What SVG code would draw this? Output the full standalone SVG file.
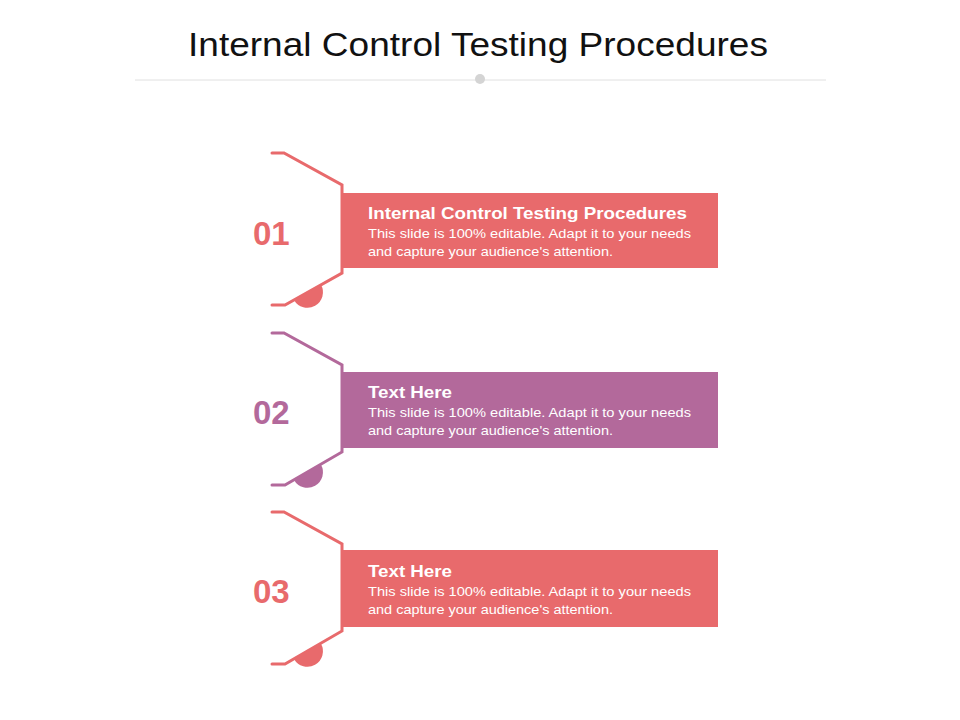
<svg xmlns="http://www.w3.org/2000/svg" width="960" height="720" viewBox="0 0 960 720">
<style>
.title{font-family:"Liberation Sans",Arial,sans-serif;font-size:33px;fill:#111;}
.num{font-family:"Liberation Sans",Arial,sans-serif;font-size:33px;font-weight:bold;}
.head{font-family:"Liberation Sans",Arial,sans-serif;font-size:17px;font-weight:bold;fill:#fff;}
.body{font-family:"Liberation Sans",Arial,sans-serif;font-size:13.5px;fill:#fff;}
.br{fill:none;stroke-width:3;stroke-linecap:round;stroke-linejoin:miter;}
.red{fill:#E86A6C;}
.redS{stroke:#E86A6C;}
.pur{fill:#B3699B;}
.purS{stroke:#B3699B;}
</style>
<rect width="960" height="720" fill="#fff"/>
<g id="title">
<text class="title" x="188" y="56" textLength="580" lengthAdjust="spacingAndGlyphs">Internal Control Testing Procedures</text>
<line x1="135" y1="80" x2="826" y2="80" stroke="#e0e0e0" stroke-width="1"/>
<circle cx="480" cy="79" r="5" fill="#d4d4d4"/>
</g>
<g id="connectors">
<path class="br redS" d="M272,153 H284 L342,185 V273 L285,305 H272"/>
<path class="br purS" d="M272,333 H284 L342,365 V452 L285,485 H272"/>
<path class="br redS" d="M272,512 H284 L342,544 V631 L285,664 H272"/>
</g>
<g id="node1">
<rect class="red" x="343" y="193" width="375" height="75"/>
<path class="red" d="M294,299.9 A14.5,14.5 0 0 0 321,284.8 Z"/>
<text class="num red" x="253" y="245">01</text>
<text class="head" x="368" y="219" textLength="319" lengthAdjust="spacingAndGlyphs">Internal Control Testing Procedures</text>
<text class="body" x="368" y="238" textLength="323" lengthAdjust="spacingAndGlyphs">This slide is 100% editable. Adapt it to your needs</text>
<text class="body" x="368" y="256" textLength="245" lengthAdjust="spacingAndGlyphs">and capture your audience's attention.</text>
</g>
<g id="node2">
<rect class="pur" x="343" y="372" width="375" height="76"/>
<path class="pur" d="M294,479.9 A14.5,14.5 0 0 0 321,464.8 Z"/>
<text class="num pur" x="253" y="424">02</text>
<text class="head" x="368" y="398" textLength="84" lengthAdjust="spacingAndGlyphs">Text Here</text>
<text class="body" x="368" y="417" textLength="323" lengthAdjust="spacingAndGlyphs">This slide is 100% editable. Adapt it to your needs</text>
<text class="body" x="368" y="435" textLength="245" lengthAdjust="spacingAndGlyphs">and capture your audience's attention.</text>
</g>
<g id="node3">
<rect class="red" x="343" y="550" width="375" height="77"/>
<path class="red" d="M294,658.9 A14.5,14.5 0 0 0 321,643.8 Z"/>
<text class="num red" x="253" y="603">03</text>
<text class="head" x="368" y="577" textLength="84" lengthAdjust="spacingAndGlyphs">Text Here</text>
<text class="body" x="368" y="596" textLength="323" lengthAdjust="spacingAndGlyphs">This slide is 100% editable. Adapt it to your needs</text>
<text class="body" x="368" y="614" textLength="245" lengthAdjust="spacingAndGlyphs">and capture your audience's attention.</text>
</g>
</svg>
